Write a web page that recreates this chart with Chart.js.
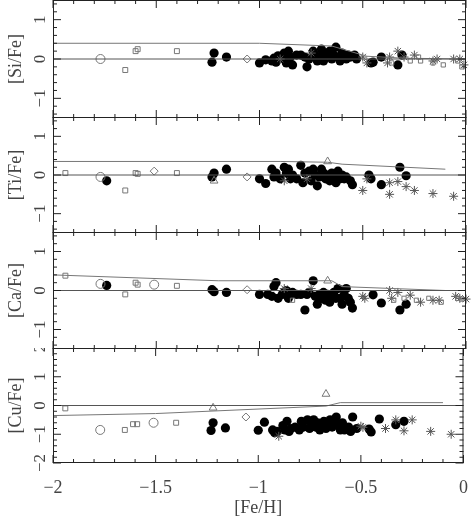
<!DOCTYPE html>
<html><head><meta charset="utf-8">
<script src="https://cdn.jsdelivr.net/npm/chart.js@4"></script>
<style>body{margin:0;background:#fff;width:474px;height:523px;overflow:hidden;position:relative}
.p{position:absolute;left:0;width:474px}</style></head><body>
<div class="p" style="top:0;height:118px"><canvas id="c0"></canvas></div>
<div class="p" style="top:117px;height:116px"><canvas id="c1"></canvas></div>
<div class="p" style="top:232px;height:117px"><canvas id="c2"></canvas></div>
<div class="p" style="top:348px;height:175px"><canvas id="c3"></canvas></div>
<script>
// ---- data ----
const panelLabels = ["[Si/Fe]","[Ti/Fe]","[Ca/Fe]","[Cu/Fe]"];
const xTicks = [-2,-1.5,-1,-0.5,0];
const solarLine = [[-2,0],[0,0]];

const siFilled = [[-1.22,0.15],[-1.23,-0.08],[-1.16,0.05],[-1.0,-0.1],[-0.97,-0.02],[-0.94,-0.05],[-0.93,0.02],[-0.92,-0.08],[-0.91,0.08],[-0.88,0.15],[-0.88,0.0],[-0.87,-0.1],[-0.86,0.2],[-0.85,0.05],[-0.84,-0.15],[-0.82,0.1],[-0.80,0.1],[-0.78,0.05],[-0.77,-0.2],[-0.76,0.0],[-0.74,0.2],[-0.73,0.1],[-0.72,-0.05],[-0.71,0.05],[-0.70,0.25],[-0.69,-0.05],[-0.68,0.15],[-0.67,0.1],[-0.66,0.2],[-0.65,0.0],[-0.64,0.1],[-0.63,0.3],[-0.62,0.05],[-0.61,-0.05],[-0.60,0.15],[-0.58,0.0],[-0.57,0.1],[-0.56,0.05],[-0.54,0.1],[-0.53,0.0],[-0.46,-0.1],[-0.45,-0.08],[-0.41,0.05],[-0.33,-0.15],[-0.31,0.1]];
const siOpenCircle = [[-1.77,0.0]];
const siSquare = [[-1.65,-0.28],[-1.60,0.2],[-1.59,0.25],[-1.40,0.2]];
const siPentagon = [[-1.06,0.0]];
const siTriangle = [];
const siStar = [[-0.9,0.0],[-0.75,0.15],[-0.5,0.05],[-0.48,-0.1],[-0.38,-0.1],[-0.37,0.05],[-0.33,0.2],[-0.3,0.05],[-0.25,0.1],[-0.16,-0.05],[-0.14,0.0],[-0.06,0.0],[-0.03,0.0],[-0.01,-0.15]];
const siBarSquare = [[-0.36,-0.1],[-0.27,-0.05],[-0.23,0.05],[-0.22,-0.05],[-0.16,-0.1],[-0.11,-0.15],[-0.04,-0.05],[-0.02,-0.2]];
const siModel = [[-2,0.4],[-1.0,0.4],[-0.65,0.33],[-0.48,0.07],[-0.3,0.02],[0,0.0]];

const tiFilled = [[-1.74,-0.15],[-1.23,-0.05],[-1.22,0.05],[-1.16,0.15],[-1.0,-0.1],[-0.97,-0.22],[-0.94,0.15],[-0.93,-0.05],[-0.92,0.05],[-0.90,-0.1],[-0.88,0.2],[-0.87,0.05],[-0.86,0.15],[-0.85,-0.1],[-0.84,0.0],[-0.82,-0.1],[-0.80,0.25],[-0.79,-0.2],[-0.78,0.05],[-0.76,0.1],[-0.75,-0.15],[-0.74,0.15],[-0.73,0.0],[-0.72,-0.28],[-0.71,-0.05],[-0.70,0.15],[-0.69,0.05],[-0.68,-0.1],[-0.67,0.0],[-0.66,-0.15],[-0.65,0.05],[-0.64,-0.05],[-0.63,-0.2],[-0.62,0.1],[-0.61,-0.1],[-0.60,0.0],[-0.59,-0.1],[-0.58,-0.05],[-0.56,-0.15],[-0.55,-0.25],[-0.47,0.0],[-0.46,-0.1],[-0.41,-0.25],[-0.32,0.2],[-0.29,-0.02]];
const tiOpenCircle = [[-1.77,-0.05]];
const tiSquare = [[-1.94,0.05],[-1.65,-0.4],[-1.60,0.05],[-1.59,0.03],[-1.40,0.05]];
const tiPentagon = [[-1.51,0.1],[-1.06,-0.05]];
const tiTriangle = [[-1.22,-0.15],[-0.67,0.35]];
const tiStar = [[-0.88,-0.15],[-0.77,-0.1],[-0.5,-0.4],[-0.48,-0.1],[-0.37,-0.5],[-0.37,-0.2],[-0.33,-0.17],[-0.29,-0.3],[-0.25,-0.4],[-0.16,-0.48],[-0.06,-0.55]];
const tiBarSquare = [];
const tiModel = [[-2,0.35],[-0.9,0.35],[-0.67,0.33],[-0.6,0.28],[-0.1,0.15]];

const caFilled = [[-1.74,0.13],[-1.23,0.02],[-1.22,-0.03],[-1.16,-0.05],[-1.0,-0.1],[-0.96,-0.1],[-0.94,-0.15],[-0.93,0.1],[-0.92,0.2],[-0.91,-0.2],[-0.89,-0.1],[-0.88,-0.05],[-0.87,0.0],[-0.86,-0.2],[-0.85,-0.1],[-0.84,-0.05],[-0.82,-0.1],[-0.80,-0.1],[-0.78,-0.5],[-0.77,-0.1],[-0.76,-0.05],[-0.74,0.25],[-0.73,-0.15],[-0.72,-0.35],[-0.71,-0.1],[-0.70,-0.2],[-0.69,-0.05],[-0.68,-0.25],[-0.67,-0.1],[-0.66,-0.3],[-0.65,-0.15],[-0.64,-0.05],[-0.63,-0.2],[-0.62,0.05],[-0.61,-0.2],[-0.60,-0.35],[-0.59,-0.1],[-0.58,0.05],[-0.57,-0.2],[-0.56,-0.3],[-0.55,-0.45],[-0.45,-0.11],[-0.41,-0.32],[-0.32,-0.5],[-0.29,-0.35]];
const caOpenCircle = [[-1.77,0.17],[-1.51,0.15]];
const caSquare = [[-1.94,0.38],[-1.65,-0.1],[-1.60,0.2],[-1.59,0.15],[-1.40,0.12]];
const caPentagon = [[-1.06,0.02]];
const caTriangle = [[-0.67,0.25]];
const caStar = [[-0.88,0.05],[-0.75,0.05],[-0.50,-0.15],[-0.49,-0.2],[-0.37,0.0],[-0.36,-0.2],[-0.33,-0.05],[-0.27,-0.12],[-0.22,-0.3],[-0.16,-0.25],[-0.13,-0.25],[-0.05,-0.15],[-0.03,-0.2],[0,-0.22]];
const caBarSquare = [[-0.84,-0.25],[-0.35,-0.25],[-0.30,-0.2],[-0.24,-0.25],[-0.18,-0.2],[-0.12,-0.3],[-0.04,-0.2],[-0.02,-0.22]];
const caModel = [[-2,0.4],[-1.2,0.25],[-0.65,0.25],[-0.6,0.1],[-0.1,0.0]];

const cuFilled = [[-1.23,-0.87],[-1.22,-0.6],[-1.16,-0.78],[-1.0,-0.86],[-0.97,-0.58],[-0.93,-0.85],[-0.92,-0.95],[-0.91,-0.9],[-0.88,-0.7],[-0.87,-0.85],[-0.86,-0.55],[-0.85,-0.9],[-0.84,-0.8],[-0.82,-0.75],[-0.80,-0.85],[-0.79,-0.55],[-0.78,-0.75],[-0.76,-0.5],[-0.75,-0.8],[-0.74,-0.65],[-0.73,-0.5],[-0.72,-0.75],[-0.71,-0.6],[-0.70,-0.85],[-0.69,-0.7],[-0.68,-0.55],[-0.67,-0.8],[-0.66,-0.65],[-0.65,-0.5],[-0.64,-0.75],[-0.63,-0.6],[-0.62,-0.4],[-0.61,-0.7],[-0.60,-0.85],[-0.59,-0.6],[-0.58,-0.85],[-0.56,-0.75],[-0.55,-0.9],[-0.54,-0.4],[-0.52,-0.8],[-0.46,-0.82],[-0.45,-0.92],[-0.41,-0.47],[-0.33,-0.67],[-0.29,-0.55]];
const cuOpenCircle = [[-1.77,-0.85],[-1.51,-0.6]];
const cuSquare = [[-1.94,-0.1],[-1.65,-0.85],[-1.61,-0.65],[-1.59,-0.65],[-1.40,-0.6]];
const cuPentagon = [[-1.06,-0.4]];
const cuTriangle = [[-1.22,-0.08],[-0.67,0.4]];
const cuStar = [[-0.9,-1.07],[-0.5,-0.72],[-0.49,-0.76],[-0.38,-0.8],[-0.33,-0.5],[-0.29,-0.88],[-0.25,-0.5],[-0.16,-0.9],[-0.06,-1.0]];
const cuBarSquare = [];
const cuModel = [[-2,-0.35],[-1.5,-0.28],[-0.67,-0.02],[-0.6,0.1],[-0.1,0.1]];

const panels = [
 {f:siFilled,o:siOpenCircle,s:siSquare,p:siPentagon,t:siTriangle,st:siStar,b:siBarSquare,m:siModel,min:-1.5,max:1.5},
 {f:tiFilled,o:tiOpenCircle,s:tiSquare,p:tiPentagon,t:tiTriangle,st:tiStar,b:tiBarSquare,m:tiModel,min:-1.5,max:1.5},
 {f:caFilled,o:caOpenCircle,s:caSquare,p:caPentagon,t:caTriangle,st:caStar,b:caBarSquare,m:caModel,min:-1.5,max:1.5},
 {f:cuFilled,o:cuOpenCircle,s:cuSquare,p:cuPentagon,t:cuTriangle,st:cuStar,b:cuBarSquare,m:cuModel,min:-2,max:2}
];
const FONT = "'Liberation Serif', 'DejaVu Serif', serif";
const toPts = a => a.map(([x,y])=>({x,y}));
const mstr = v => (v<0?"\u2212":"")+Math.abs(v);

const framePlugin = {
  id:'frame',
  afterDraw(chart){
    const {ctx, chartArea:a, scales:{x,y}} = chart;
    const idx = chart.options.plugins.frame.idx;
    ctx.save();
    ctx.strokeStyle='#222'; ctx.lineWidth=1;
    ctx.strokeRect(a.left+0.5,a.top+0.5,a.right-a.left-1,a.bottom-a.top-1);
    ctx.beginPath();
    for(let i=-20;i<=0;i++){
      const v=i/10, px=x.getPixelForValue(v), L=(i%5===0)?8:4;
      ctx.moveTo(px,a.bottom); ctx.lineTo(px,a.bottom-L);
      ctx.moveTo(px,a.top); ctx.lineTo(px,a.top+L);
    }
    const mn=y.min, mx=y.max;
    for(let v=Math.ceil(mn*5)/5; v<=mx+1e-9; v+=0.2){
      const py=y.getPixelForValue(v), L=(Math.abs(v-Math.round(v))<1e-6)?8:4;
      ctx.moveTo(a.left,py); ctx.lineTo(a.left+L,py);
      ctx.moveTo(a.right,py); ctx.lineTo(a.right-L,py);
    }
    ctx.stroke();
    ctx.fillStyle='#444'; ctx.font='17px '+FONT; ctx.textAlign='center'; ctx.textBaseline='middle';
    for(let v=Math.ceil(mn); v<=Math.floor(mx); v++){
      const py=y.getPixelForValue(v);
      ctx.save(); ctx.translate(a.left-12,py); ctx.rotate(-Math.PI/2);
      ctx.fillText(mstr(v),0,0); ctx.restore();
    }
    ctx.save(); ctx.translate(16,(a.top+a.bottom)/2); ctx.rotate(-Math.PI/2);
    ctx.font='18px '+FONT; ctx.fillText(panelLabels[idx],0,0); ctx.restore();
    ctx.restore();
  }
};

panels.forEach((P,i)=>{
  const last = i===3;
  const pt = (data,style,r,fill,col,bw)=>({type:'scatter',data:toPts(data),pointStyle:style,pointRadius:r,
     backgroundColor:fill,borderColor:col,borderWidth:bw,pointHoverRadius:r,clip:false});
  const ln = (data,col)=>({type:'line',data:toPts(data),borderColor:col,borderWidth:1,pointRadius:0,fill:false,tension:0});
  new Chart(document.getElementById('c'+i),{
    data:{datasets:[
      ln(solarLine,'#555'), ln(P.m,'#777'),
      pt(P.o,'circle',4.5,'transparent','#777',1),
      pt(P.s,'rect',3.5,'transparent','#777',1),
      pt(P.b,'rect',3,'transparent','#777',1),
      pt(P.p,'rectRot',4,'transparent','#777',1),
      pt(P.t,'triangle',4.5,'transparent','#777',1),
      pt(P.st,'star',4.5,'transparent','#555',1),
      pt(P.f,'circle',4.6,'#000','#000',0)
    ]},
    options:{
      responsive:true, maintainAspectRatio:false, animation:false,
      layout:{autoPadding:false,padding:{top:0,right:8,left:0,bottom:0}},
      plugins:{legend:{display:false},tooltip:{enabled:false},frame:{idx:i}},
      scales:{
        x:{type:'linear',min:-2,max:0,display:last,
           grid:{display:false},border:{display:false},
           afterBuildTicks:s=>{s.ticks=xTicks.map(v=>({value:v}));},
           afterFit:s=>{ if(last) s.height=60; },
           ticks:{color:'#444',font:{family:FONT,size:18},padding:6,maxRotation:0,callback:v=>mstr(v)},
           title:{display:last,text:'[Fe/H]',color:'#444',font:{family:FONT,size:18},padding:{top:2}}},
        y:{type:'linear',min:P.min,max:P.max,
           grid:{display:false},border:{display:false},ticks:{display:false},
           afterFit:s=>{s.width=53;}}
      }
    },
    plugins:[framePlugin]
  });
});
</script></body></html>
